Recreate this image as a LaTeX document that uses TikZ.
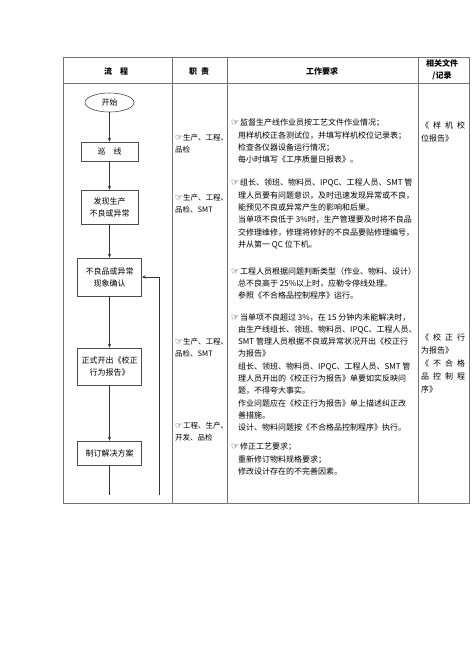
\documentclass[tikz,border=0pt]{standalone}
\usepackage{fontspec}
\setmainfont{Noto Sans CJK SC}
\newfontfamily\symf{DejaVu Sans}
\usetikzlibrary{shapes.geometric,arrows.meta}
\newcommand{\hand}{\makebox[9pt][l]{\symf\fontsize{9}{8}\selectfont ☞}}
\newcommand{\handb}{\makebox[8pt][l]{\symf\fontsize{8.5}{8}\selectfont ☞}}
\newcommand{\myind}{\hspace*{7pt}}
\begin{document}
\begin{tikzpicture}[x=1pt,y=-1pt,
  tbl/.style={draw=black!55, line width=0.8pt},
  fbox/.style={draw=black!70, line width=0.6pt, rectangle, minimum width=64pt, inner sep=0pt, align=center, font=\fontsize{8}{12}\selectfont},
  flow/.style={draw=black!80, line width=0.6pt, -{Stealth[length=4pt,width=3.2pt]}},
  plain/.style={draw=black!80, line width=0.6pt},
  req/.style={anchor=north west, inner sep=0pt, align=left, font=\fontsize{8}{12.3}\selectfont},
  duty/.style={anchor=north west, inner sep=0pt, align=left, font=\fontsize{7.5}{12}\selectfont},
  doc/.style={anchor=north west, inner sep=0pt, align=left, font=\fontsize{8}{12.8}\selectfont},
  hdr/.style={inner sep=0pt, align=center, font=\bfseries\fontsize{8}{12}\selectfont}]
\useasboundingbox (0,0) rectangle (474,670);
\fill[white] (0,0) rectangle (474,670);
% table
\draw[tbl] (63,57) rectangle (469,503);
\draw[tbl] (63,83) -- (469,83);
\draw[tbl] (172,57) -- (172,503);
\draw[tbl] (227,57) -- (227,503);
\draw[tbl] (418,57) -- (418,503);
% header
\node[hdr] (h1) at (116,71) {流\hspace{1em}程};
\node[hdr] (h2) at (199,71) {职\hspace{0.5em}责};
\node[hdr] (h3) at (322,71) {工作要求};
\node[hdr] (h4) at (442,70) {相关文件\\/记录};
% flow
\node[ellipse, draw=black!70, line width=0.6pt, minimum width=49pt, minimum height=19pt, inner sep=0pt, font=\fontsize{8}{12}\selectfont] (start) at (109.5,102.5) {开始};
\node[fbox, minimum width=57pt, minimum height=19pt] (xun) at (109.5,151.5) {巡\hspace{1em}线};
\node[fbox, minimum width=57pt, minimum height=34pt] (fa) at (109.5,207) {发现生产\\不良或异常};
\node[fbox, minimum height=38pt] (que) at (109.5,277) {不良品或异常\\现象确认};
\node[fbox, minimum height=37pt] (zheng) at (109.5,366.5) {正式开出《校正\\行为报告》};
\node[fbox, minimum height=24pt] (zhi) at (109.5,453) {制订解决方案};
\draw[flow] (start) -- (xun);
\draw[flow] (xun) -- (fa);
\draw[flow] (fa) -- (que);
\draw[flow] (que) -- (zheng);
\draw[flow] (zheng) -- (zhi);
\coordinate (e1) at (109.5,495);
\coordinate (e2) at (159,495);
\draw[plain] (zhi) -- (e1);
\draw[flow] (e2) |- (que.east);
% duties
\node[duty] (d1) at (175,134) {\handb 生产、工程、\\品检};
\node[duty] (d2) at (175,194) {\handb 生产、工程、\\品检、SMT};
\node[duty] (d3) at (175,338) {\handb 生产、工程、\\品检、SMT};
\node[duty] (d4) at (175,422) {\handb 工程、生产、\\开发、品检};
% requirements
\node[req] (r1) at (231,119) {\hand 监督生产线作业员按工艺文件作业情况；\\
\myind 用样机校正各测试位，并填写样机校位记录表；\\
\myind 检查各仪器设备运行情况；\\
\myind 每小时填写《工序质量日报表》。};
\node[req] (r2) at (231,179) {\hand 组长、领班、物料员、IPQC、工程人员、SMT 管\\
\myind 理人员要有问题意识，及时迅速发现异常或不良，\\
\myind 能预见不良或异常产生的影响和后果。\\
\myind 当单项不良低于 3\%时，生产管理要及时将不良品\\
\myind 交修理维修，修理将修好的不良品要贴修理编号，\\
\myind 并从第一 QC 位下机。};
\node[req] (r3) at (231,267) {\hand 工程人员根据问题判断类型（作业、物料、设计）\\
\myind 总不良高于 25\%以上时，应勒令停线处理。\\
\myind 参照《不合格品控制程序》运行。};
\node[req] (r4) at (231,313) {\hand 当单项不良超过 3\%，在 15 分钟内未能解决时，\\
\myind 由生产线组长、领班、物料员、IPQC、工程人员、\\
\myind SMT 管理人员根据不良或异常状况开出《校正行\\
\myind 为报告》\\
\myind 组长、领班、物料员、IPQC、工程人员、SMT 管\\
\myind 理人员开出的《校正行为报告》单要如实反映问\\
\myind 题，不得夸大事实。\\
\myind 作业问题应在《校正行为报告》单上描述纠正改\\
\myind 善措施。\\
\myind 设计、物料问题按《不合格品控制程序》执行。};
\node[req] (r5) at (231,443) {\hand 修正工艺要求；\\
\myind 重新修订物料规格要求；\\
\myind 修改设计存在的不完善因素。};
% documents
\node[doc] (f1) at (421,122) {\makebox[44pt][s]{《\hfill 样\hfill 机\hfill 校}\\位报告》};
\node[doc] (f2) at (421,334) {\makebox[44pt][s]{《\hfill 校\hfill 正\hfill 行}\\为报告》\\\makebox[44pt][s]{《\hfill 不\hfill 合\hfill 格}\\\makebox[44pt][s]{品\hfill 控\hfill 制\hfill 程}\\序》};
\end{tikzpicture}
\end{document}
